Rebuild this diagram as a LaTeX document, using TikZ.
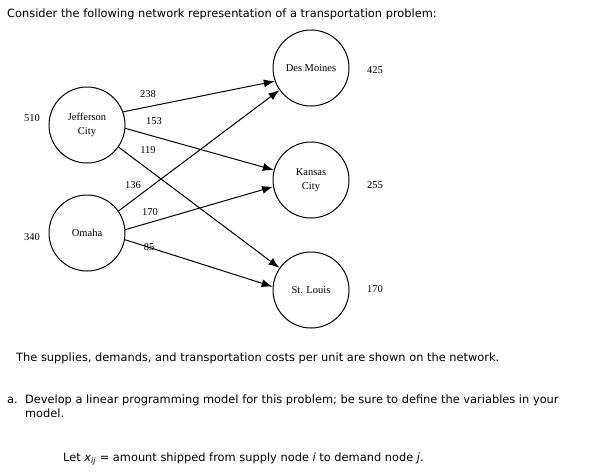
\documentclass[tikz,border=0pt]{standalone}
\usepackage{fontspec}
\usetikzlibrary{arrows.meta}
\setmainfont{DejaVu Sans}
\newfontfamily\dia{Liberation Serif}
\begin{document}
\begin{tikzpicture}[x=1pt,y=-1pt,
  nd/.style={circle,draw,line width=1pt,minimum size=76pt,inner sep=0pt,font=\dia\fontsize{10.5}{12}\selectfont,align=center},
  lab/.style={font=\dia\fontsize{10.5}{12}\selectfont,inner sep=0pt},
  arr/.style={-{Latex[length=11pt,width=8pt]},line width=1pt},
  txt/.style={font=\fontsize{11.4}{14}\selectfont,anchor=west,inner sep=0pt,align=left}]
\useasboundingbox (0,0) rectangle (601,475);
\node[nd] (j) at (87,125) {Jefferson\\[2pt]City};
\node[nd] (o) at (87,233) {Omaha};
\node[nd] (d) at (311,68) {Des Moines};
\node[nd] (k) at (311,180) {Kansas\\[2pt]City};
\node[nd] (s) at (311,290) {St. Louis};
\draw[arr] (j.20) -- (d.200);
\draw[arr] (j.-5) -- (k.165);
\draw[arr] (j.-35) -- (s.145);
\draw[arr] (o.35) -- (d.215);
\draw[arr] (o.5) -- (k.190);
\draw[arr] (o.-10) -- (s.175);
\node[lab] (l1) at (148,94) {238};
\node[lab] (l2) at (154,121) {153};
\node[lab] (l3) at (148,150) {119};
\node[lab] (l4) at (133,185) {136};
\node[lab] (l5) at (150,212) {170};
\node[lab] (l6) at (149,247) {85};
\node[lab] (s1) at (32,118) {510};
\node[lab] (s2) at (32,237) {340};
\node[lab] (d1) at (375,70) {425};
\node[lab] (d2) at (375,185) {255};
\node[lab] (d3) at (375,289) {170};
\node[txt] (t1) at (7,14) {Consider the following network representation of a transportation problem:};
\node[txt] (t2) at (16,358) {The supplies, demands, and transportation costs per unit are shown on the network.};
\node[txt] (t3) at (7,406) {a.\ \ Develop a linear programming model for this problem; be sure to define the variables in your\\\phantom{a.\ \ }model.};
\node[txt] (t4) at (63,459) {Let \textit{x\textsubscript{ij}} = amount shipped from supply node \textit{i} to demand node \textit{j}.};
\end{tikzpicture}
\end{document}
